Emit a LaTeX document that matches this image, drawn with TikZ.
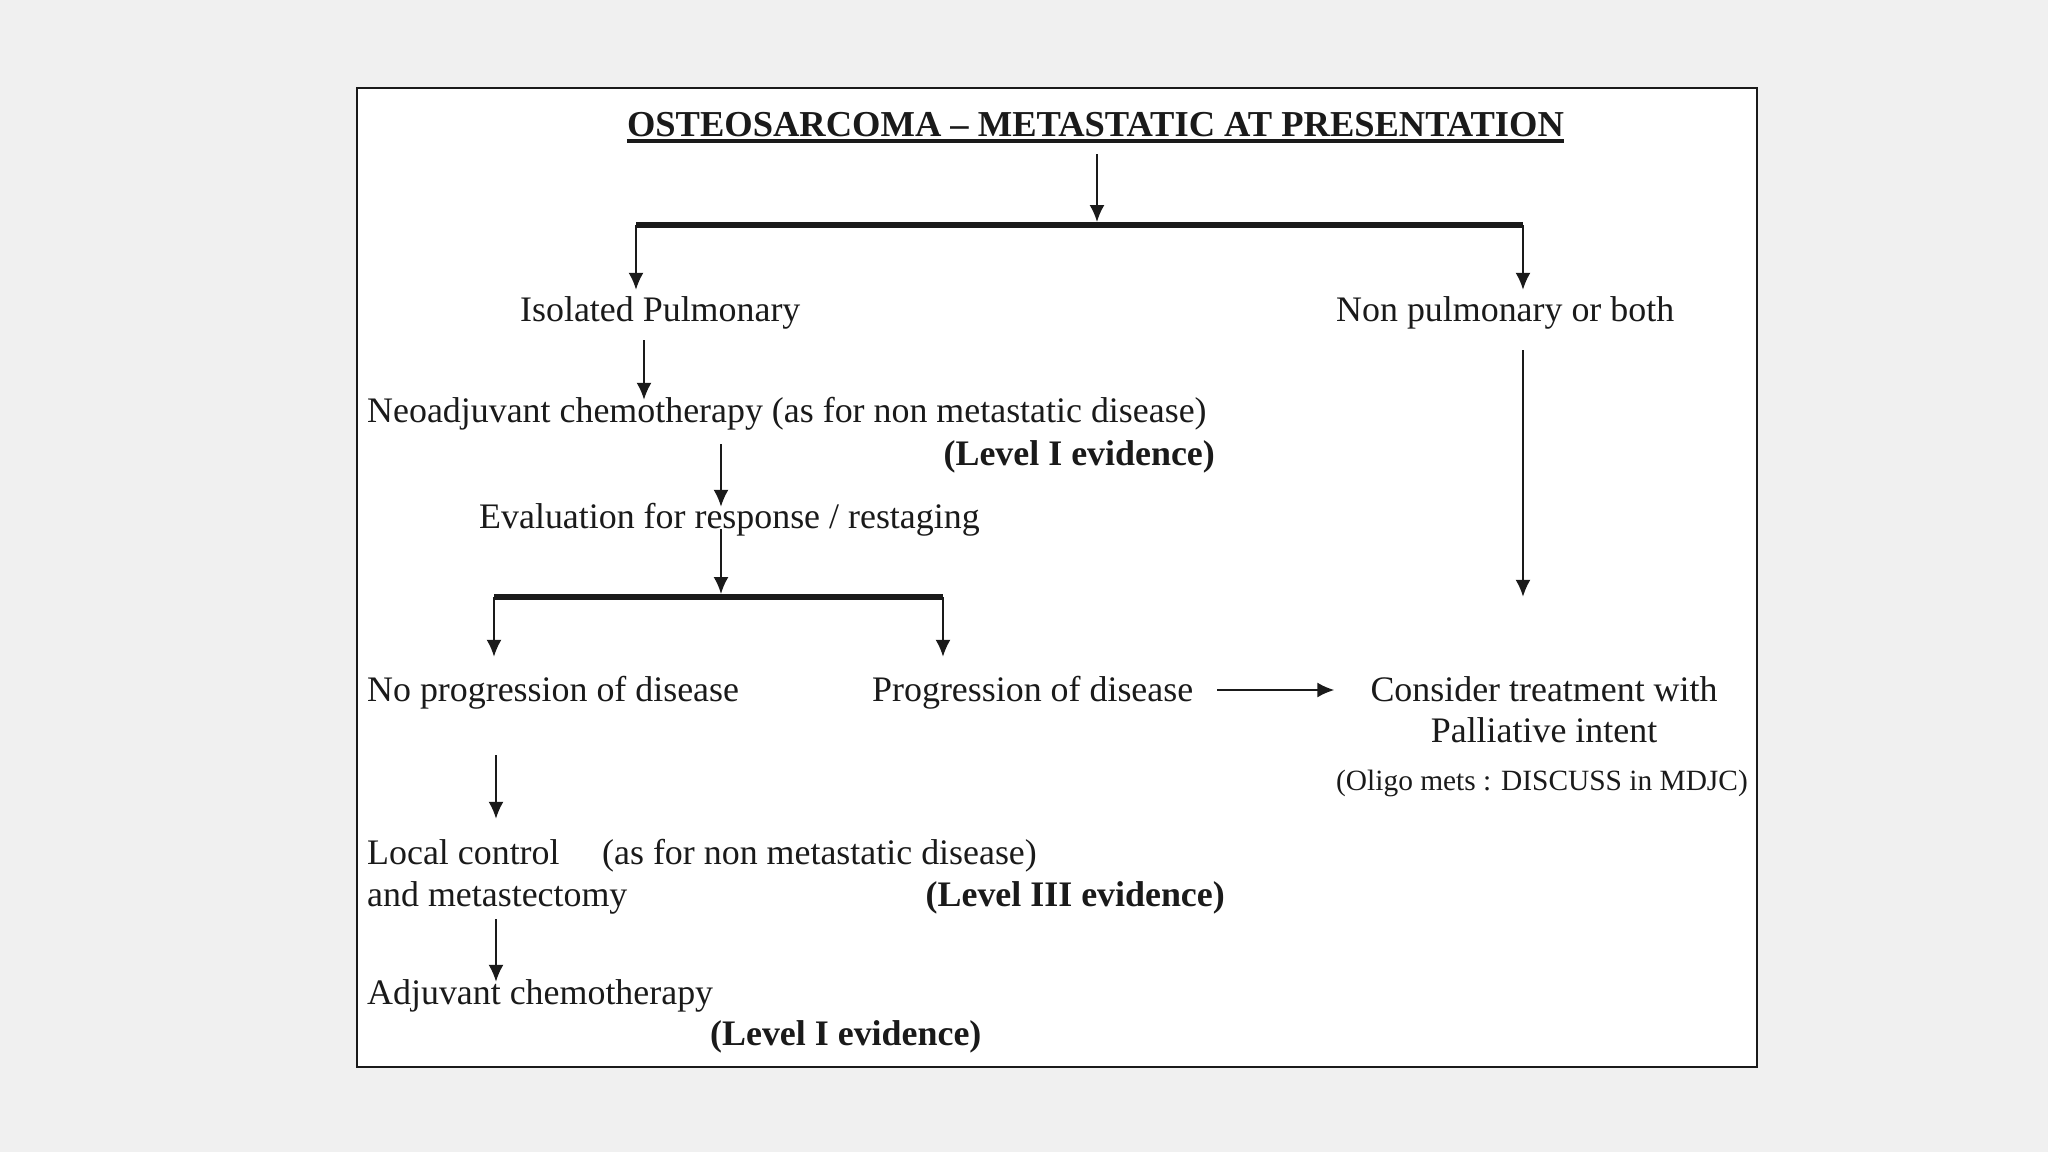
\documentclass[tikz,border=0pt]{standalone}
\usepackage{fontspec}
\setmainfont{Liberation Serif}
\usetikzlibrary{arrows.meta}
\definecolor{bgc}{HTML}{F0F0F0}
\definecolor{ink}{HTML}{1A1A1A}
\tikzset{
  txt/.style={font=\fontsize{35.9}{42}\selectfont, text=ink, inner sep=0pt, text height=25pt, text depth=7pt, anchor=west, yshift=-2.5pt},
  txtb/.style={txt, font=\fontsize{35.9}{42}\selectfont\bfseries},
  smalltxt/.style={font=\fontsize{29.4}{34}\selectfont, text=ink, inner sep=0pt, text height=21pt, text depth=6pt, yshift=-2.5pt},
  titlestyle/.style={font=\fontsize{36.5}{42}\selectfont\bfseries, text=ink, inner sep=0pt, text height=24pt, text depth=0pt},
  arr/.style={draw=ink, line width=2pt, -{Latex[length=17pt,width=15pt]}},
  barline/.style={draw=ink, line width=5.5pt},
  frameline/.style={draw=ink, line width=2pt, fill=white}
}
\begin{document}
\begin{tikzpicture}[x=1pt,y=-1pt]
\fill[bgc] (0,0) rectangle (2048,1152);
\draw[frameline] (356.5,87.5) rectangle (1756.6,1067);

% title
\node[titlestyle] (title) at (1095.5,124) {OSTEOSARCOMA – METASTATIC AT PRESENTATION};
\draw[draw=ink, line width=3.5pt] ([yshift=-5pt]title.south west) -- ([yshift=-5pt]title.south east);

% first split
\coordinate (b1l) at (636,225);
\coordinate (b1r) at (1523,225);
\coordinate (b1m) at (1097,225);
\draw[barline] (b1l) -- (b1r);
\draw[arr] ([yshift=-18pt]title.south -| b1m) -- ([yshift=3pt]b1m);

\node[txt] (iso) at (520,310) {Isolated Pulmonary};
\node[txt] (nonp) at (1336,310) {Non pulmonary or both};
\draw[arr] (b1l) -- ([yshift=6.5pt]iso.north -| b1l);
\draw[arr] (b1r) -- ([yshift=6.5pt]nonp.north -| b1r);

% left branch
\node[txt] (neo) at (367,411) {Neoadjuvant chemotherapy (as for non metastatic disease)};
\coordinate (x4) at (644,0);
\draw[arr] ([yshift=-11.5pt]iso.south -| x4) -- ([yshift=-2.5pt]neo.north -| x4);
\node[txtb, anchor=east] (lev1) at (1215,454) {(Level I evidence)};

\node[txt] (eval) at (479,517) {Evaluation for response / restaging};
\coordinate (x5) at (721,0);
\draw[arr] ([yshift=-14.5pt]neo.south -| x5) -- ([yshift=-3.5pt]eval.north -| x5);

\coordinate (b2l) at (494,597);
\coordinate (b2r) at (943,597);
\coordinate (b2m) at (721,597);
\draw[barline] (b2l) -- (b2r);
\draw[arr] ([yshift=6.5pt]eval.south -| b2m) -- ([yshift=3pt]b2m);

\node[txt] (noprog) at (367,690) {No progression of disease};
\node[txt] (prog) at (872,690) {Progression of disease};
\draw[arr] (b2l) -- ([yshift=19.5pt]noprog.north -| b2l);
\draw[arr] (b2r) -- ([yshift=19.5pt]prog.north -| b2r);

% palliative
\node[txt, anchor=center] (cons) at (1544,690) {Consider treatment with};
\node[txt, anchor=center] (pall) at (1544,731) {Palliative intent};
\node[smalltxt, anchor=center] (oligo) at (1542,780) {(Oligo mets : DISCUSS in MDJC)};
\draw[arr] ([xshift=24pt,yshift=2.5pt]prog.east) -- ([xshift=-36pt,yshift=2.5pt]cons.west);
\draw[arr] ([yshift=-21.5pt]nonp.south -| b1r) -- ([yshift=79.5pt]cons.north -| b1r);

% local control
\node[txt] (local) at (367,853) {Local control};
\node[txt] (asfor) at (602,853) {(as for non metastatic disease)};
\node[txt] (meta) at (367,895) {and metastectomy};
\node[txtb, anchor=east] (lev3) at (1225,895) {(Level III evidence)};
\coordinate (x11) at (496,0);
\draw[arr] ([yshift=-46.5pt]noprog.south -| x11) -- ([yshift=20.5pt]local.north -| x11);

\node[txt] (adj) at (367,993) {Adjuvant chemotherapy};
\node[txtb] (lev1b) at (710,1034) {(Level I evidence)};
\draw[arr] ([yshift=-5.5pt]meta.south -| x11) -- ([yshift=-2.5pt]adj.north -| x11);
\end{tikzpicture}
\end{document}
